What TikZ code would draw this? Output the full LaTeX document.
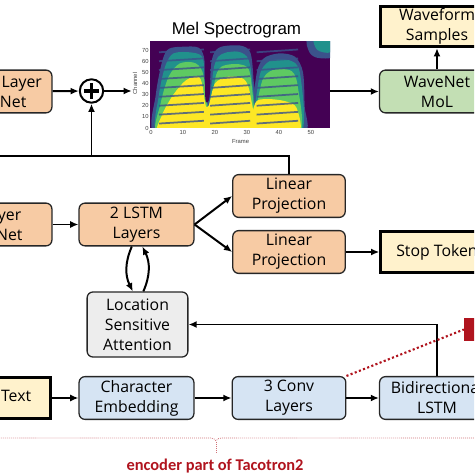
\documentclass[tikz,border=0pt]{standalone}
\usepackage{fontspec}
\setmainfont{Open Sans}
\newfontfamily\plotfont{Liberation Sans}
\newfontfamily\notefont{Carlito}
\usepackage{tikz}
\usetikzlibrary{arrows.meta,positioning,decorations.pathreplacing}
\definecolor{peach}{HTML}{F7CBA4}
\definecolor{mint}{HTML}{C3DFB4}
\definecolor{skyb}{HTML}{D6E4F3}
\definecolor{fog}{HTML}{EDEDED}
\definecolor{cream}{HTML}{FFF2CC}
\definecolor{tacored}{HTML}{B0141E}
\definecolor{vir0}{HTML}{440154}
\definecolor{vir1}{HTML}{3B528B}
\definecolor{vir2}{HTML}{21918C}
\definecolor{vir3}{HTML}{5EC962}
\definecolor{vir4}{HTML}{FDE725}

\begin{document}
\begin{tikzpicture}[x=0.03cm, y=0.03cm,
    blk/.style={rounded corners=5pt, draw=black!85, line width=1.1pt, align=center,
      minimum width=98pt, minimum height=36.5pt, inner sep=0pt,
      font=\fontsize{13.5}{17}\selectfont},
    iobox/.style={blk, rounded corners=0pt, line width=2.6pt, draw=black, fill=cream,
      minimum height=34.5pt, minimum width=96pt},
    arr/.style={-{Latex[length=7pt,width=6pt]}, line width=1.7pt},
    lnk/.style={line width=1.7pt},
    ticklbl/.style={font=\plotfont\fontsize{5}{6}\selectfont, text=black!75, inner sep=0.5pt},
    notedot/.style={tacored!60, densely dotted, line width=0.7pt}]
\path[use as bounding box] (0,0) rectangle (474,474);
\clip (0,0) rectangle (474,474);

% decoder, upper part
\node[blk, fill=peach] (postnet) at (-5.5,382.5) {5 Conv Layer\\Post-Net};
\node[circle, draw, line width=1.7pt, minimum size=20pt, inner sep=0pt] (plus) at (91.5,383) {};
\draw[line width=3.4pt] ([xshift=-6.5pt]plus.center) -- ([xshift=6.5pt]plus.center);
\draw[line width=3.4pt] ([yshift=-6.5pt]plus.center) -- ([yshift=6.5pt]plus.center);
\node[inner sep=0pt, minimum width=169pt, minimum height=75pt] (mel) at (231,389) {};
\node[font=\plotfont\fontsize{14.5}{16}\selectfont] (title) at (236.5,444) {Mel Spectrogram};
\node[blk, fill=mint] (wavenet) at (437,382.5) {WaveNet\\MoL};
\node[iobox] (wave) at (437,447.5) {Waveform\\Samples};

% spectrogram (frames x channels)
\begin{scope}[shift={(151,346)}, x=0.096cm, y=0.0334cm]
  \fill[vir0] (-0.3,0) rectangle (56,78);
  \foreach \v in {0,10,...,70} \node[ticklbl, anchor=east] (yt\v) at (-0.5,\v) {\v};
  \foreach \v in {0,10,...,50} \node[ticklbl, anchor=north] (xt\v) at (\v,-1) {\v};
  \node[ticklbl, rotate=90] (ylab) at (-5,40) {Channel};
  \node[ticklbl] (xlab) at (28,-12) {Frame};
  \begin{scope}
    \clip (-0.3,0) rectangle (56,78);
    \fill[vir1] plot[smooth cycle, tension=0.5] coordinates {(1,-5) (1.5,30) (3.5,60) (5.5,71) (10,73) (15,72) (16.8,60) (17,30) (17.3,-5)};
    \fill[vir1] plot[smooth cycle, tension=0.5] coordinates {(17.5,-5) (18.3,45) (19.5,66) (22,73) (28,74) (31,68) (32,45) (32.5,-5)};
    \fill[vir1] plot[smooth cycle, tension=0.5] coordinates {(32,-5) (32.8,45) (35,62) (40,67) (45,64) (47.5,50) (48,20) (48,-5)};
    \fill[vir1] plot[smooth cycle, tension=0.5] coordinates {(49,80) (49.5,68) (52,63) (57,64) (57,80)};
    \fill[vir2] plot[smooth cycle, tension=0.5] coordinates {(2,-5) (2.5,30) (4.5,56) (7,67) (12,68) (16,64) (16.7,45) (17,-5)};
    \fill[vir2] plot[smooth cycle, tension=0.5] coordinates {(18.5,-5) (19.2,45) (21,64) (26,69) (30,64) (31.5,45) (31.8,-5)};
    \fill[vir2] plot[smooth cycle, tension=0.5] coordinates {(33,-5) (33.8,45) (37,60) (43,61) (46.5,50) (47,-5)};
    \fill[vir2] plot[smooth cycle, tension=0.5] coordinates {(51,80) (52,70) (56,68) (57,80)};
    \fill[vir3] plot[smooth cycle, tension=0.5] coordinates {(2,-5) (3,22) (5.5,46) (9,58) (14,58) (16.5,45) (17,-5)};
    \fill[vir3] plot[smooth cycle, tension=0.5] coordinates {(19,-5) (19.8,40) (22,55) (28,57) (31,48) (31.5,-5)};
    \fill[vir3] plot[smooth cycle, tension=0.5] coordinates {(33,-5) (34.5,40) (38,52) (44,51) (46,35) (46.5,-5)};
    \fill[vir4] plot[smooth cycle, tension=0.5] coordinates {(2.5,-5) (3.5,12) (7,30) (11,43) (15,46) (16.5,30) (17,-5)};
    \fill[vir4] plot[smooth cycle, tension=0.5] coordinates {(16,-5) (16.5,18) (18,20) (20,40) (24,46) (29,44) (31,30) (31.5,-5)};
    \fill[vir4] plot[smooth cycle, tension=0.5] coordinates {(32,-5) (32.5,22) (36,26) (42,24) (45.5,18) (46,-5)};
    \fill[vir0] plot[smooth cycle] coordinates {(17,26) (16.8,70) (17.8,80) (18.6,62) (18.3,28)};
    \foreach \a/\b in {2.5/16.5, 18.5/31, 33/46}
      \foreach \c in {5,13,21,29,37,45,53,61,69}
        \draw[vir1, line width=1.5pt, opacity=0.8] (\a,\c-1) -- (\b,\c+1.5);
  \end{scope}
\end{scope}

% decoder, lower part
\node[blk, fill=peach] (prenet) at (-5.5,249.5) {2 Layer\\Pre-Net};
\node[blk, fill=peach] (lstm) at (136.5,249.5) {2 LSTM\\Layers};
\node[blk, fill=peach, minimum width=96pt] (proj1) at (289,278) {Linear\\Projection};
\node[blk, fill=peach, minimum width=96pt] (proj2) at (289,222) {Linear\\Projection};
\node[iobox] (stop) at (437,222) {Stop Token};
\node[blk, fill=fog, minimum width=86pt, minimum height=55.5pt] (attn) at (137.5,149.5) {Location\\Sensitive\\Attention};
\coordinate (fb) at (-20,318);

% encoder
\node[iobox] (text) at (-5.5,76) {Input Text};
\node[blk, fill=skyb] (embed) at (136.5,76) {Character\\Embedding};
\node[blk, fill=skyb, minimum width=97pt] (conv) at (289,76) {3 Conv\\Layers};
\node[blk, fill=skyb] (bilstm) at (437,76) {Bidirectional\\LSTM};
\node[fill=tacored, minimum width=22pt, minimum height=19.5pt, inner sep=0pt] (tag) at (477,144.5) {};

% connections
\draw[arr] (postnet) -- (plus);
\draw[arr] (plus) -- (plus -| mel.west);
\draw[arr] (plus |- fb) -- (plus);
\draw[lnk] (proj1.north) |- (fb);
\draw[arr] (mel.east |- wavenet) -- (wavenet);
\draw[arr] (wavenet) -- (wave);
\draw[arr] (prenet) -- (lstm);
\draw[arr] (lstm.east) -- (proj1.west);
\draw[arr] (lstm.east) -- (proj2.west);
\draw[arr] (proj2) -- (stop);
\draw[arr] ([xshift=-4pt]lstm.south) to[bend right=25] ([xshift=-4pt]attn.north);
\draw[arr] ([xshift=5pt]attn.north) to[bend right=25] ([xshift=5pt]lstm.south);
\draw[arr] (text) -- (embed);
\draw[arr] (embed) -- (conv);
\draw[arr] (conv) -- (bilstm);
\draw[arr] (bilstm.north) |- (attn.east);
\draw[tacored, dotted, line width=1.8pt] (conv.north east) -- (tag.west);

% encoder mark
\draw[notedot, decorate, decoration={brace, mirror, amplitude=5pt}] (-50,39) -- (482,39);
\draw[notedot] (216,32) -- (216,22);
\node[text=tacored, font=\notefont\bfseries\fontsize{14}{16}\selectfont] (note) at (215,8) {encoder part of Tacotron2};
\end{tikzpicture}
\end{document}
